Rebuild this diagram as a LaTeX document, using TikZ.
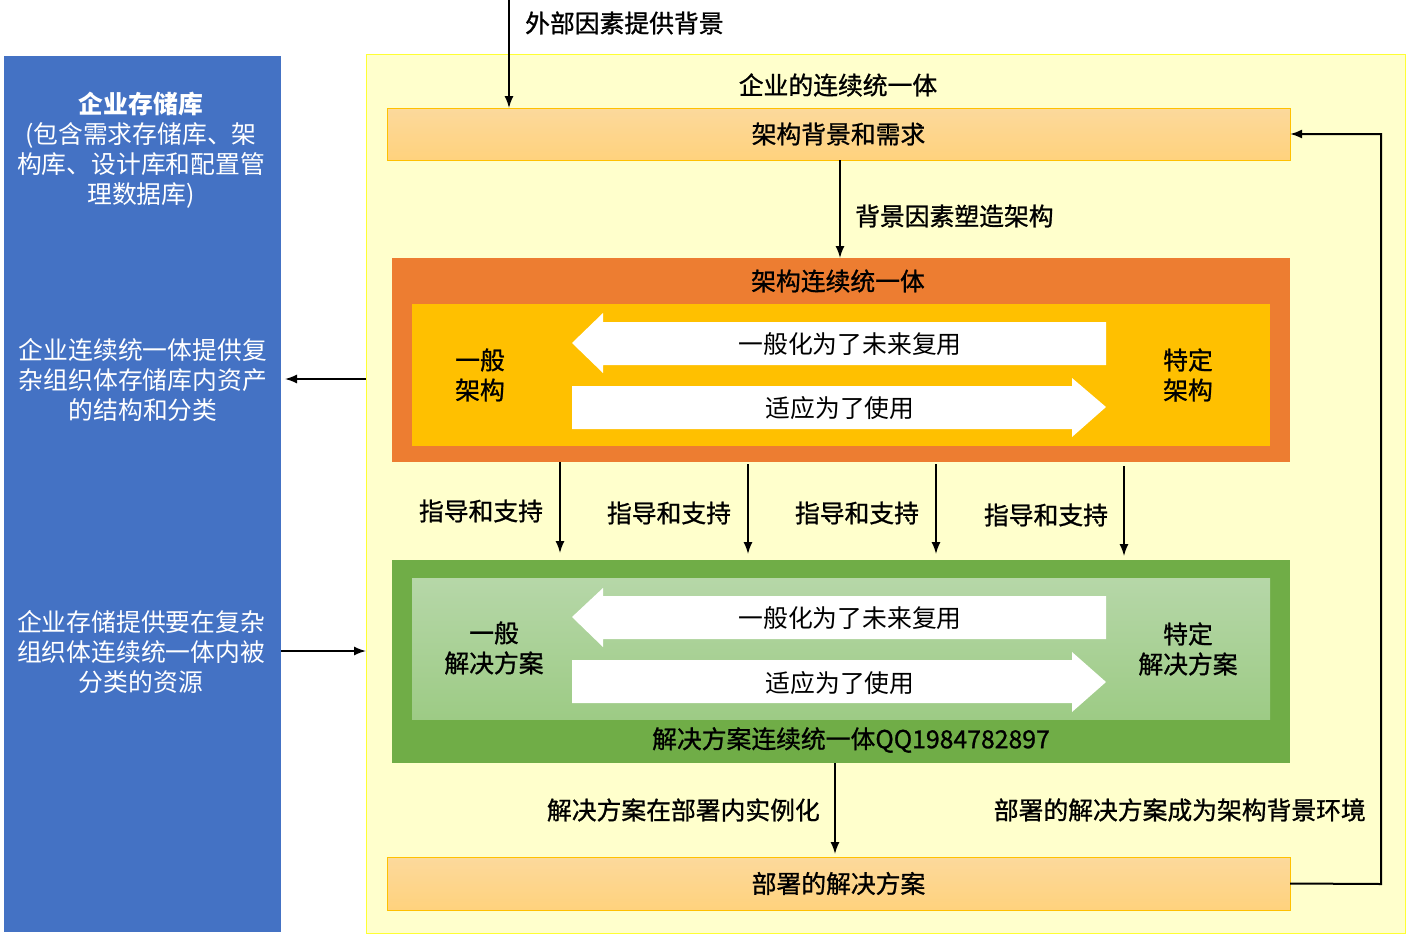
\documentclass[tikz,border=0pt]{standalone}
\usepackage{fontspec}
\setmainfont{Noto Sans CJK SC}
\newfontfamily\hei[FakeBold=1]{Noto Sans CJK SC}
\usetikzlibrary{arrows.meta,calc}
\definecolor{blueP}{HTML}{4472C4}
\definecolor{yelP}{HTML}{FFFFCC}
\definecolor{yelB}{HTML}{FFFF33}
\definecolor{orgP}{HTML}{ED7D31}
\definecolor{goldP}{HTML}{FFC000}
\definecolor{grnP}{HTML}{70AD47}
\definecolor{lightT}{HTML}{FCD99C}
\definecolor{lightB}{HTML}{FFD27D}
\definecolor{gTop}{HTML}{B6D7A8}
\definecolor{gBot}{HTML}{9DCB85}
\begin{document}
\begin{tikzpicture}[x=1pt,y=-1pt,
  font=\fontsize{24.8}{30}\selectfont,
  arr/.style={-{Latex[length=12pt,width=9pt]}, line width=1.5pt},
  panel/.style={anchor=north west, inner sep=0pt, outer sep=0pt},
  ctxbox/.style={panel, draw=goldP, line width=1pt, top color=lightT, bottom color=lightB},
  lbl/.style={font=\hei\fontsize{24.8}{30}\selectfont, align=center, inner sep=0pt},
  arrtxt/.style={font=\fontsize{24.8}{30}\selectfont, inner sep=0pt},
  wtxt/.style={text=white, align=center, inner sep=0pt},
  bigarrow/.style={fill=white, draw=none}]
\useasboundingbox (0,0) rectangle (1406,935);

% panels
\node[panel, fill=blueP, minimum width=277pt, minimum height=876pt] (repo) at (4,56) {};
\node[panel, fill=yelP, draw=yelB, line width=1pt, minimum width=1039pt, minimum height=879pt] (ent) at (366,54) {};

% left panel texts
\node[wtxt] (repoT) at (141,150) {{\bfseries 企业存储库}\\(包含需求存储库、架\\构库、设计库和配置管\\理数据库)};
\node[wtxt] (repoM) at (143,380) {企业连续统一体提供复\\杂组织体存储库内资产\\的结构和分类};
\node[wtxt] (repoB) at (141,652) {企业存储提供要在复杂\\组织体连续统一体内被\\分类的资源};

% enterprise title
\node[lbl] (entT) at (838,85) {企业的连续统一体};

% architecture context box
\node[ctxbox, minimum width=903pt, minimum height=52pt] (archctx) at (387,108) {};
\node[lbl] (archctxT) at (archctx.center) {架构背景和需求};

% architecture continuum
\node[panel, fill=orgP, minimum width=898pt, minimum height=204pt] (archc) at (392,258) {};
\node[lbl] (archcT) at (838,281) {架构连续统一体};
\node[panel, fill=goldP, minimum width=858pt, minimum height=142pt] (archin) at (412,304) {};
\fill[bigarrow] (1106,322) -- (603,322) -- (603,313) -- (572,343) -- (603,373) -- (603,365) -- (1106,365) -- cycle;
\fill[bigarrow] (572,386) -- (1072,386) -- (1072,378) -- (1106,407) -- (1072,437) -- (1072,429) -- (572,429) -- cycle;
\node[arrtxt] (aGen) at (850,344) {一般化为了未来复用};
\node[arrtxt] (aAdp) at (840,408) {适应为了使用};
\node[lbl] (aL) at (480,375) {一般\\架构};
\node[lbl] (aR) at (1188,375) {特定\\架构};

% solution continuum
\node[panel, fill=grnP, minimum width=898pt, minimum height=203pt] (solc) at (392,560) {};
\node[panel, top color=gTop, bottom color=gBot, minimum width=858pt, minimum height=141pt] (solin) at (412,578) {};
\fill[bigarrow] (1106,596) -- (603,596) -- (603,588) -- (572,617) -- (603,647) -- (603,639) -- (1106,639) -- cycle;
\fill[bigarrow] (572,660) -- (1072,660) -- (1072,652) -- (1106,682) -- (1072,712) -- (1072,703) -- (572,703) -- cycle;
\node[arrtxt] (sGen) at (850,618) {一般化为了未来复用};
\node[arrtxt] (sAdp) at (840,683) {适应为了使用};
\node[lbl] (sL) at (494,648) {一般\\解决方案};
\node[lbl] (sR) at (1188,649) {特定\\解决方案};
\node[lbl] (solcT) at (851,740) {解决方案连续统一体QQ1984782897};

% deployed solutions
\node[ctxbox, minimum width=903pt, minimum height=53pt] (dep) at (387,857) {};
\node[lbl] (depT) at (dep.center) {部署的解决方案};

% connectors
\coordinate (ext) at (509,0);
\draw[arr] (ext) -- (ext |- archctx.north);
\node[lbl, anchor=west] (extT) at (525,23) {外部因素提供背景};

\draw[arr] (archctx.south -| 840,0) -- (archc.north -| 840,0);
\node[lbl, anchor=west] (shapeT) at (855,216) {背景因素塑造架构};

\draw[arr] (archc.south -| 560,0) -- ($(solc.north -| 560,0)+(0,-7)$);
\draw[arr] ($(archc.south -| 748,0)+(0,2)$) -- ($(solc.north -| 748,0)+(0,-6)$);
\draw[arr] ($(archc.south -| 936,0)+(0,2)$) -- ($(solc.north -| 936,0)+(0,-6)$);
\draw[arr] ($(archc.south -| 1124,0)+(0,4)$) -- ($(solc.north -| 1124,0)+(0,-4)$);
\node[lbl] (g1) at (481,511) {指导和支持};
\node[lbl] (g2) at (669,513) {指导和支持};
\node[lbl] (g3) at (857,513) {指导和支持};
\node[lbl] (g4) at (1046,515) {指导和支持};

\draw[arr] (solc.south -| 835,0) -- ($(dep.north -| 835,0)+(0,-3)$);
\node[lbl, anchor=east] (instT) at (820,810) {解决方案在部署内实例化};

\draw[arr, line width=2pt] (dep.east) -- (1381,884) -- (1381,134) -- (archctx.east);
\node[lbl, anchor=east] (fbT) at (1366,810) {部署的解决方案成为架构背景环境};

\draw[arr] (ent.west |- 0,379) -- (285,379);
\draw[arr] (repo.east |- 0,651) -- (ent.west |- 0,651);
\end{tikzpicture}
\end{document}
